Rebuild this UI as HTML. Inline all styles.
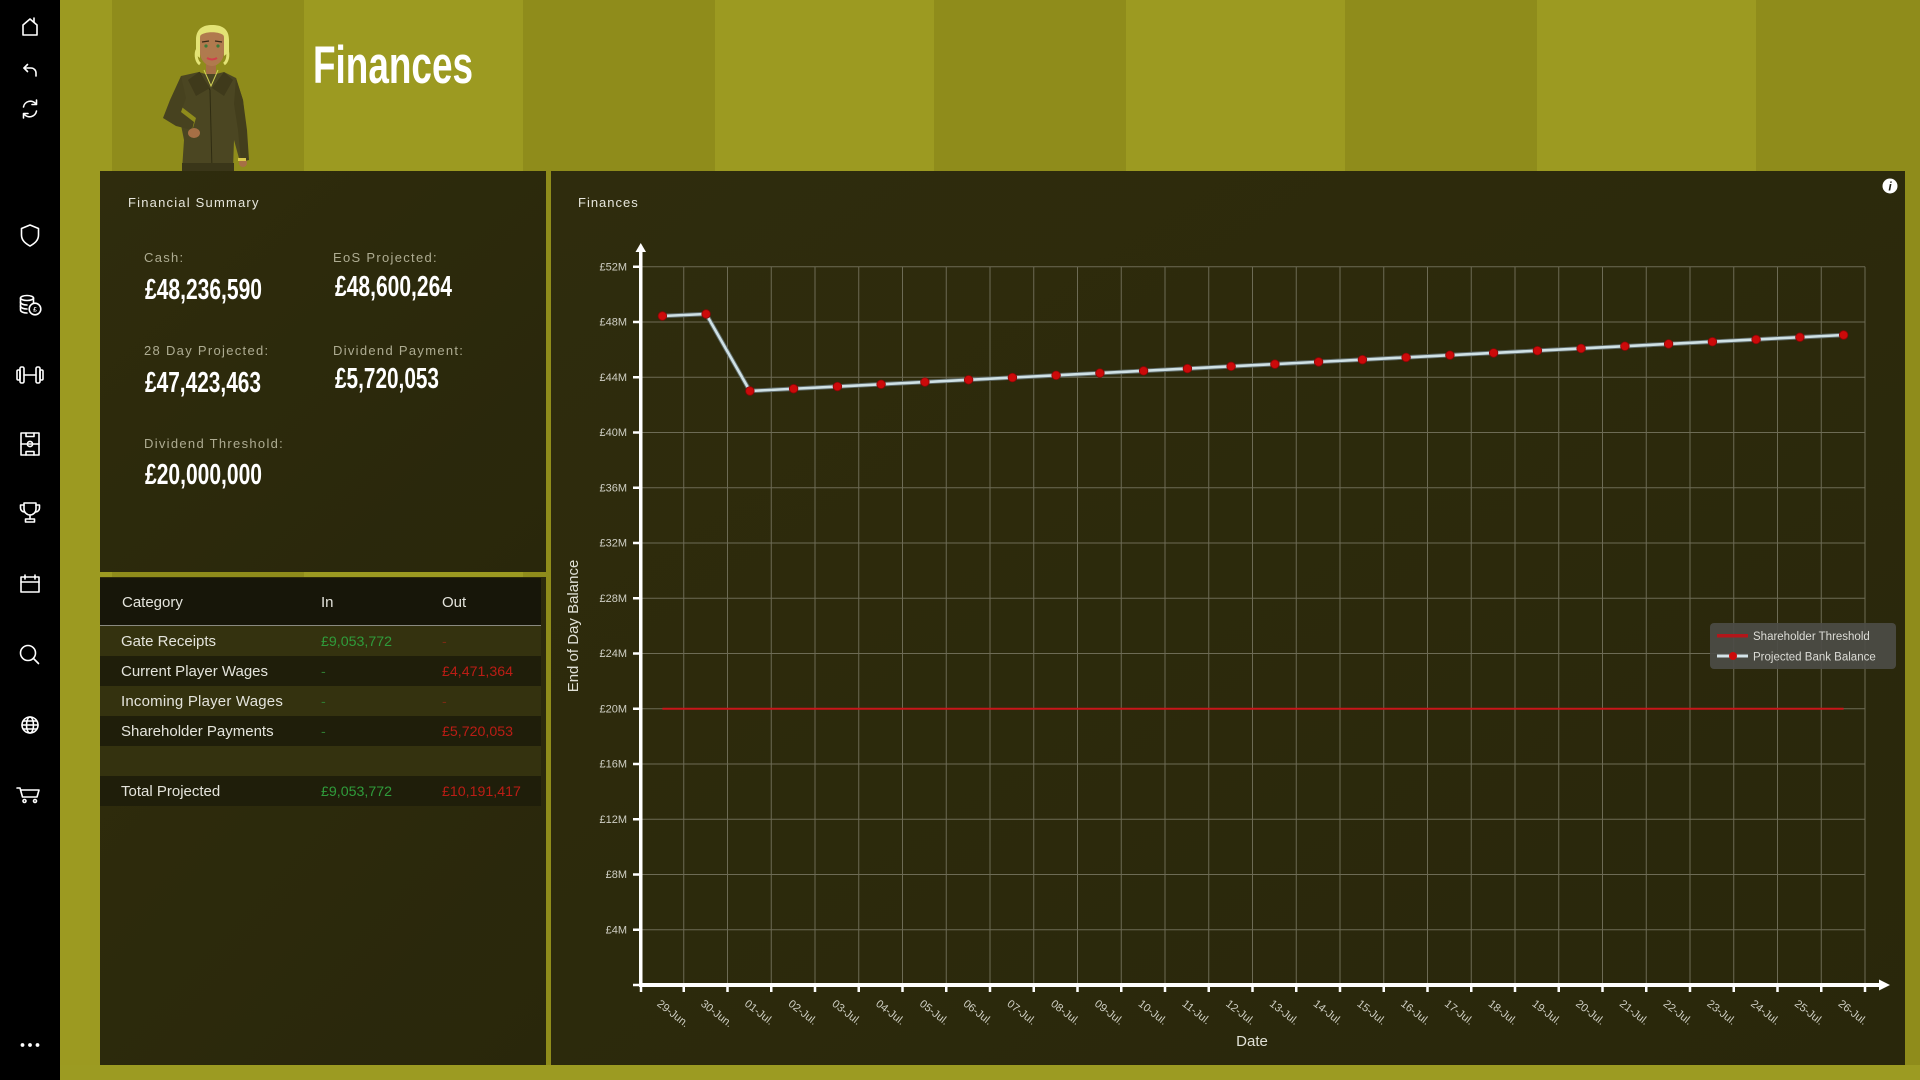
<!DOCTYPE html>
<html>
<head>
<meta charset="utf-8">
<style>
  html,body{margin:0;padding:0;width:1920px;height:1080px;overflow:hidden;background:#9a981f;}
  svg{display:block;}
  text{font-family:"Liberation Sans", sans-serif;}
</style>
</head>
<body>
<svg width="1920" height="1080" viewBox="0 0 1920 1080" xmlns="http://www.w3.org/2000/svg">
  <defs>
    <pattern id="stripes" x="0" y="0" width="411" height="1080" patternUnits="userSpaceOnUse">
      <rect x="0" y="0" width="411" height="1080" fill="#9c9a21"/>
      <rect x="112" y="0" width="192" height="1080" fill="#8f8c1b"/>
    </pattern>
    <linearGradient id="pg" x1="0" y1="0" x2="1" y2="1">
      <stop offset="0" stop-color="#2f2c0d"/>
      <stop offset="1" stop-color="#29270b"/>
    </linearGradient>
  </defs>

  <!-- background -->
  <rect x="0" y="0" width="1920" height="1080" fill="url(#stripes)"/>
  <rect x="60" y="1065" width="1860" height="15" fill="#9c9b22"/>

  <!-- sidebar -->
  <rect x="0" y="0" width="60" height="1080" fill="#000"/>
  <g fill="none" stroke="#fff" stroke-width="1.6" stroke-linejoin="round" stroke-linecap="round">
    <!-- home -->
    <path d="M23 35 V25 L30 19 L37 25 V35 Z"/>
    <path d="M34 22 V18"/>
    <!-- back -->
    <path d="M36 76 V73 a5 5 0 0 0 -5 -5 H24"/>
    <path d="M27.5 64.5 L24 68 L27.5 71.5"/>
    <!-- refresh -->
    <path d="M23.5 107 a7 7 0 0 1 12.5 -3"/>
    <path d="M36.5 100 V104.5 H32"/>
    <path d="M36.5 111 a7 7 0 0 1 -12.5 3"/>
    <path d="M23.5 118 V113.5 H28"/>
    <!-- shield -->
    <path d="M30 225 L38.5 228.5 V235 C38.5 240.5 34.5 243.5 30 246 C25.5 243.5 21.5 240.5 21.5 235 V228.5 Z"/>
    <!-- coins -->
    <ellipse cx="27" cy="298" rx="6.5" ry="2.5"/>
    <path d="M20.5 298 V310 C20.5 312 24 313 27 313"/>
    <path d="M20.5 302 C20.5 304 24 305 27 305"/>
    <path d="M20.5 306 C20.5 308 24 309 27 309"/>
    <path d="M33.5 298 V303"/>
    <circle cx="35" cy="309" r="5.8"/>
    <!-- dumbbell -->
    <rect x="17" y="370" width="3" height="10" rx="1.2"/>
    <rect x="20" y="367" width="4" height="16" rx="1.5"/>
    <rect x="36" y="367" width="4" height="16" rx="1.5"/>
    <rect x="40" y="370" width="3" height="10" rx="1.2"/>
    <path d="M24 375 H36"/>
    <!-- field -->
    <rect x="21" y="433" width="18" height="22"/>
    <path d="M21 444 H39"/>
    <circle cx="30" cy="444" r="2.6"/>
    <path d="M26 433 V436.5 H34 V433"/>
    <path d="M26 455 V451.5 H34 V455"/>
    <!-- trophy -->
    <path d="M24 503 H36 V509 a6 6 0 0 1 -12 0 Z"/>
    <path d="M24 505 H20.5 V508 a4 4 0 0 0 4 4"/>
    <path d="M36 505 H39.5 V508 a4 4 0 0 1 -4 4"/>
    <path d="M30 515 V519"/>
    <rect x="25.5" y="519" width="9" height="3"/>
    <!-- calendar -->
    <rect x="21" y="577" width="18" height="15"/>
    <path d="M21 582 H39"/>
    <path d="M25 575 V579 M35 575 V579"/>
    <!-- search -->
    <circle cx="28" cy="653" r="7.5"/>
    <path d="M33.5 658.5 L38.5 663.5"/>
    <!-- globe -->
    <circle cx="30" cy="725" r="8"/>
    <ellipse cx="30" cy="725" rx="3.5" ry="8"/>
    <path d="M22 725 H38 M23.5 721 H36.5 M23.5 729 H36.5"/>
    <!-- cart -->
    <path d="M17 788 H20 L22.5 797 H37 L39 790 H21"/>
    <circle cx="24.5" cy="801" r="1.5"/>
    <circle cx="35" cy="801" r="1.5"/>
  </g>
  <text x="35" y="311.5" font-size="6.5" font-weight="bold" fill="#fff" text-anchor="middle">£</text>
  <g fill="#fff">
    <circle cx="22.5" cy="1045" r="1.9"/>
    <circle cx="30" cy="1045" r="1.9"/>
    <circle cx="37.5" cy="1045" r="1.9"/>
  </g>

  <!-- avatar -->
  <g>
    <path d="M181 76 L199 72 L205 74 L216 74 L224 72 L236 78 L243 100 L246 130 L248 160 L240 162 L234 140 L233 170 L182 170 L184 140 L180 120 L193 128 L196 118 L183 108 L176 100 Z" fill="#4b4622"/>
    <path d="M181 76 L170 100 L163 118 L176 126 L192 130 L194 122 L181 112 L186 98 Z" fill="#47421f"/>
    <path d="M236 78 L243 100 L247 130 L249 160 L241 162 L238 130 L234 104 Z" fill="#433e1c"/>
    <path d="M199 72 L210 90 L212 170" stroke="#2f2c12" stroke-width="1" fill="none"/>
    <path d="M199 72 L188 80 L196 96 L210 88 Z" fill="#3f3a1b"/>
    <path d="M224 72 L233 80 L224 96 L212 88 Z" fill="#3f3a1b"/>
    <rect x="182" y="163" width="52" height="8" fill="#3a3619"/>
    <ellipse cx="194" cy="133" rx="6" ry="5" fill="#a66f45"/>
    <ellipse cx="243" cy="163" rx="4" ry="4" fill="#a66f45"/>
    <rect x="238" y="158" width="8" height="3" fill="#d8c84a"/>
    <rect x="206" y="62" width="10" height="12" fill="#a66f45"/>
    <path d="M204 70 L211 86 L218 70" fill="none" stroke="#cfcf55" stroke-width="1"/>
    <path d="M196 40 C196 28 204 25 212 25 C221 25 229 28 229 40 L229 52 L224 56 L224 40 L200 40 L200 58 L196 55 Z" fill="#e3e375"/>
    <path d="M197 50 C195 56 197 62 200 64" stroke="#e3e375" stroke-width="3" fill="none"/>
    <path d="M227 50 C229 56 227 62 224 64" stroke="#e3e375" stroke-width="3" fill="none"/>
    <path d="M200 38 C200 32 205 31 212 31 C219 31 224 32 224 38 L224 52 C224 60 218 66 212 66 C206 66 200 60 200 52 Z" fill="#b07a4e"/>
    <path d="M200 36 C203 31 221 31 224 36 L224 34 C220 28 204 28 200 34 Z" fill="#e3e375"/>
    <circle cx="206" cy="46" r="1.6" fill="#3a7a3a"/>
    <circle cx="218" cy="46" r="1.6" fill="#3a7a3a"/>
    <path d="M202 42 L209 41 M215 41 L222 42" stroke="#3a2a18" stroke-width="1.2"/>
    <path d="M207 58 Q212 61 217 58" stroke="#d0404a" stroke-width="2" fill="none"/>
  </g>

  <!-- title -->
  <text x="313" y="83" font-size="53" font-weight="bold" fill="#ffffff" textLength="160" lengthAdjust="spacingAndGlyphs">Finances</text>

  <!-- left summary panel -->
  <rect x="100" y="171" width="446" height="401" fill="url(#pg)"/>
  <text x="128" y="207" font-size="13" fill="#e6e6dc" letter-spacing="1.2">Financial Summary</text>

  <g font-size="13" fill="#aeac92" letter-spacing="1.3">
    <text x="144" y="262">Cash:</text>
    <text x="333" y="262">EoS Projected:</text>
    <text x="144" y="355">28 Day Projected:</text>
    <text x="333" y="355">Dividend Payment:</text>
    <text x="144" y="448">Dividend Threshold:</text>
  </g>
  <g font-size="29" font-weight="bold" fill="#ffffff">
    <text x="145" y="299" textLength="117" lengthAdjust="spacingAndGlyphs">£48,236,590</text>
    <text x="335" y="296" textLength="117" lengthAdjust="spacingAndGlyphs">£48,600,264</text>
    <text x="145" y="392" textLength="116" lengthAdjust="spacingAndGlyphs">£47,423,463</text>
    <text x="335" y="388" textLength="104" lengthAdjust="spacingAndGlyphs">£5,720,053</text>
    <text x="145" y="484" textLength="117" lengthAdjust="spacingAndGlyphs">£20,000,000</text>
  </g>

  <!-- table panel -->
  <rect x="100" y="577" width="446" height="488" fill="url(#pg)"/>
  <rect x="100" y="578" width="441" height="47" fill="#171609"/>
  <rect x="100" y="625" width="441" height="1" fill="#8a8a80"/>
  <rect x="100" y="626" width="441" height="30" fill="#34320f"/>
  <rect x="100" y="656" width="441" height="30" fill="#1f1e0a"/>
  <rect x="100" y="686" width="441" height="30" fill="#34320f"/>
  <rect x="100" y="716" width="441" height="30" fill="#1f1e0a"/>
  <rect x="100" y="746" width="441" height="30" fill="#34320f"/>
  <rect x="100" y="776" width="441" height="30" fill="#1f1e0a"/>

  <g font-size="15" fill="#e4e4dc">
    <text x="122" y="607">Category</text>
    <text x="321" y="607">In</text>
    <text x="442" y="607">Out</text>
    <text x="121" y="646">Gate Receipts</text>
    <text x="121" y="676">Current Player Wages</text>
    <text x="121" y="706" letter-spacing="0.2">Incoming Player Wages</text>
    <text x="121" y="736">Shareholder Payments</text>
    <text x="121" y="796">Total Projected</text>
  </g>
  <g font-size="14.2">
    <text x="321" y="646" fill="#2f9c3b">£9,053,772</text>
    <text x="442" y="646" fill="#7a2a12">-</text>
    <text x="321" y="676" fill="#2f7a30">-</text>
    <text x="442" y="676" fill="#bb1d15">£4,471,364</text>
    <text x="321" y="706" fill="#2f7a30">-</text>
    <text x="442" y="706" fill="#7a2a12">-</text>
    <text x="321" y="736" fill="#2f7a30">-</text>
    <text x="442" y="736" fill="#bb1d15">£5,720,053</text>
    <text x="321" y="796" fill="#2f9c3b">£9,053,772</text>
    <text x="442" y="796" fill="#bb1d15">£10,191,417</text>
  </g>

  <!-- chart panel -->
  <rect x="551" y="171" width="1354" height="894" fill="url(#pg)"/>
  <text x="578" y="207" font-size="13" fill="#e6e6dc" letter-spacing="1">Finances</text>

  <!-- info icon -->
  <circle cx="1890" cy="186" r="7.5" fill="#ffffff"/>
  <text x="1890" y="190.5" font-size="12" font-weight="bold" font-style="italic" font-family="Liberation Serif, serif" fill="#1c1c12" text-anchor="middle">i</text>

  <!-- grid -->
  <path fill="none" stroke="#6d6b55" stroke-width="1" d="
    M683.75 266.75V985 M727.5 266.75V985 M771.25 266.75V985 M815 266.75V985 M858.75 266.75V985 M902.5 266.75V985 M946.25 266.75V985 M990 266.75V985 M1033.75 266.75V985 M1077.5 266.75V985 M1121.25 266.75V985 M1165 266.75V985 M1208.75 266.75V985 M1252.5 266.75V985 M1296.25 266.75V985 M1340 266.75V985 M1383.75 266.75V985 M1427.5 266.75V985 M1471.25 266.75V985 M1515 266.75V985 M1558.75 266.75V985 M1602.5 266.75V985 M1646.25 266.75V985 M1690 266.75V985 M1733.75 266.75V985 M1777.5 266.75V985 M1821.25 266.75V985 M1865 266.75V985
    M640 929.75H1865 M640 874.5H1865 M640 819.25H1865 M640 764H1865 M640 708.75H1865 M640 653.5H1865 M640 598.25H1865 M640 543H1865 M640 487.75H1865 M640 432.5H1865 M640 377.25H1865 M640 322H1865 M640 266.75H1865"/>

  <!-- y labels -->
  <g font-size="11" fill="#cfcfc4" text-anchor="end">
    <text x="627" y="270.5">£52M</text>
    <text x="627" y="325.5">£48M</text>
    <text x="627" y="381">£44M</text>
    <text x="627" y="436">£40M</text>
    <text x="627" y="491.5">£36M</text>
    <text x="627" y="546.5">£32M</text>
    <text x="627" y="602">£28M</text>
    <text x="627" y="657">£24M</text>
    <text x="627" y="712.5">£20M</text>
    <text x="627" y="767.5">£16M</text>
    <text x="627" y="823">£12M</text>
    <text x="627" y="878">£8M</text>
    <text x="627" y="933.5">£4M</text>
  </g>

  <!-- ticks -->
  <path fill="none" stroke="#ffffff" stroke-width="2.5" d="
    M633 266.75H640 M633 322H640 M633 377.25H640 M633 432.5H640 M633 487.75H640 M633 543H640 M633 598.25H640 M633 653.5H640 M633 708.75H640 M633 764H640 M633 819.25H640 M633 874.5H640 M633 929.75H640 M633 985H640
    M641 985V992 M683.75 985V992 M727.5 985V992 M771.25 985V992 M815 985V992 M858.75 985V992 M902.5 985V992 M946.25 985V992 M990 985V992 M1033.75 985V992 M1077.5 985V992 M1121.25 985V992 M1165 985V992 M1208.75 985V992 M1252.5 985V992 M1296.25 985V992 M1340 985V992 M1383.75 985V992 M1427.5 985V992 M1471.25 985V992 M1515 985V992 M1558.75 985V992 M1602.5 985V992 M1646.25 985V992 M1690 985V992 M1733.75 985V992 M1777.5 985V992 M1821.25 985V992 M1865 985V992"/>

  <!-- axes -->
  <rect x="639" y="250" width="3.5" height="737" fill="#ffffff"/>
  <path d="M640.75 243 L646 252 L635.5 252 Z" fill="#ffffff"/>
  <rect x="639" y="983" width="1242" height="4" fill="#ffffff"/>
  <path d="M1890 985 L1879 979.5 L1879 990.5 Z" fill="#ffffff"/>

  <!-- threshold line -->
  <path d="M662.4 708.8 H1843.6" stroke="#c8161a" stroke-width="2" fill="none"/>

  <!-- bank balance line -->
  <polyline fill="none" stroke="#5e6a68" stroke-width="4.5" stroke-linejoin="round" points="662.4,316 706.1,314 749.9,391 793.6,388.76 837.4,386.52 881.1,384.28 924.9,382.04 968.6,379.8 1012.4,377.56 1056.1,375.32 1099.9,373.08 1143.6,370.84 1187.4,368.6 1231.1,366.36 1274.9,364.12 1318.6,361.88 1362.4,359.64 1406.1,357.4 1449.9,355.16 1493.6,352.92 1537.4,350.68 1581.1,348.44 1624.9,346.2 1668.6,343.96 1712.4,341.72 1756.1,339.48 1799.9,337.24 1843.6,335"/>
  <polyline fill="none" stroke="#cfe1e5" stroke-width="2.6" stroke-linejoin="round" points="662.4,316 706.1,314 749.9,391 793.6,388.76 837.4,386.52 881.1,384.28 924.9,382.04 968.6,379.8 1012.4,377.56 1056.1,375.32 1099.9,373.08 1143.6,370.84 1187.4,368.6 1231.1,366.36 1274.9,364.12 1318.6,361.88 1362.4,359.64 1406.1,357.4 1449.9,355.16 1493.6,352.92 1537.4,350.68 1581.1,348.44 1624.9,346.2 1668.6,343.96 1712.4,341.72 1756.1,339.48 1799.9,337.24 1843.6,335"/>
  <g fill="#cc0a0a" stroke="#8a0606" stroke-width="0.8">
    <circle cx="662.4" cy="316" r="4.3"/>
    <circle cx="706.1" cy="314" r="4.3"/>
    <circle cx="749.9" cy="391" r="4.3"/>
    <circle cx="793.6" cy="388.76" r="4.3"/>
    <circle cx="837.4" cy="386.52" r="4.3"/>
    <circle cx="881.1" cy="384.28" r="4.3"/>
    <circle cx="924.9" cy="382.04" r="4.3"/>
    <circle cx="968.6" cy="379.8" r="4.3"/>
    <circle cx="1012.4" cy="377.56" r="4.3"/>
    <circle cx="1056.1" cy="375.32" r="4.3"/>
    <circle cx="1099.9" cy="373.08" r="4.3"/>
    <circle cx="1143.6" cy="370.84" r="4.3"/>
    <circle cx="1187.4" cy="368.6" r="4.3"/>
    <circle cx="1231.1" cy="366.36" r="4.3"/>
    <circle cx="1274.9" cy="364.12" r="4.3"/>
    <circle cx="1318.6" cy="361.88" r="4.3"/>
    <circle cx="1362.4" cy="359.64" r="4.3"/>
    <circle cx="1406.1" cy="357.4" r="4.3"/>
    <circle cx="1449.9" cy="355.16" r="4.3"/>
    <circle cx="1493.6" cy="352.92" r="4.3"/>
    <circle cx="1537.4" cy="350.68" r="4.3"/>
    <circle cx="1581.1" cy="348.44" r="4.3"/>
    <circle cx="1624.9" cy="346.2" r="4.3"/>
    <circle cx="1668.6" cy="343.96" r="4.3"/>
    <circle cx="1712.4" cy="341.72" r="4.3"/>
    <circle cx="1756.1" cy="339.48" r="4.3"/>
    <circle cx="1799.9" cy="337.24" r="4.3"/>
    <circle cx="1843.6" cy="335" r="4.3"/>
  </g>

  <!-- x labels -->
  <g font-size="11" fill="#cfcfc4">
    <text transform="translate(656.4,1005) rotate(38)">29-Jun.</text>
    <text transform="translate(700.1,1005) rotate(38)">30-Jun.</text>
    <text transform="translate(743.9,1005) rotate(38)">01-Jul.</text>
    <text transform="translate(787.6,1005) rotate(38)">02-Jul.</text>
    <text transform="translate(831.4,1005) rotate(38)">03-Jul.</text>
    <text transform="translate(875.1,1005) rotate(38)">04-Jul.</text>
    <text transform="translate(918.9,1005) rotate(38)">05-Jul.</text>
    <text transform="translate(962.6,1005) rotate(38)">06-Jul.</text>
    <text transform="translate(1006.4,1005) rotate(38)">07-Jul.</text>
    <text transform="translate(1050.1,1005) rotate(38)">08-Jul.</text>
    <text transform="translate(1093.9,1005) rotate(38)">09-Jul.</text>
    <text transform="translate(1137.6,1005) rotate(38)">10-Jul.</text>
    <text transform="translate(1181.4,1005) rotate(38)">11-Jul.</text>
    <text transform="translate(1225.1,1005) rotate(38)">12-Jul.</text>
    <text transform="translate(1268.9,1005) rotate(38)">13-Jul.</text>
    <text transform="translate(1312.6,1005) rotate(38)">14-Jul.</text>
    <text transform="translate(1356.4,1005) rotate(38)">15-Jul.</text>
    <text transform="translate(1400.1,1005) rotate(38)">16-Jul.</text>
    <text transform="translate(1443.9,1005) rotate(38)">17-Jul.</text>
    <text transform="translate(1487.6,1005) rotate(38)">18-Jul.</text>
    <text transform="translate(1531.4,1005) rotate(38)">19-Jul.</text>
    <text transform="translate(1575.1,1005) rotate(38)">20-Jul.</text>
    <text transform="translate(1618.9,1005) rotate(38)">21-Jul.</text>
    <text transform="translate(1662.6,1005) rotate(38)">22-Jul.</text>
    <text transform="translate(1706.4,1005) rotate(38)">23-Jul.</text>
    <text transform="translate(1750.1,1005) rotate(38)">24-Jul.</text>
    <text transform="translate(1793.9,1005) rotate(38)">25-Jul.</text>
    <text transform="translate(1837.6,1005) rotate(38)">26-Jul.</text>
  </g>

  <!-- axis titles -->
  <text x="1252" y="1046" font-size="15" fill="#e0e0d6" text-anchor="middle">Date</text>
  <text transform="translate(578,626) rotate(-90)" font-size="15" fill="#e0e0d6" text-anchor="middle">End of Day Balance</text>

  <!-- legend -->
  <rect x="1710" y="623" width="186" height="46" rx="4" fill="#4c4c47" fill-opacity="0.92"/>
  <path d="M1717 635.7 H1748" stroke="#b3161a" stroke-width="3.5"/>
  <text x="1753" y="640" font-size="11.5" fill="#dcdcd6">Shareholder Threshold</text>
  <path d="M1717 656 H1748" stroke="#d4e3e8" stroke-width="3"/>
  <circle cx="1733" cy="656" r="4" fill="#cc0a0a"/>
  <text x="1753" y="660.5" font-size="11.5" fill="#dcdcd6">Projected Bank Balance</text>
</svg>
</body>
</html>
